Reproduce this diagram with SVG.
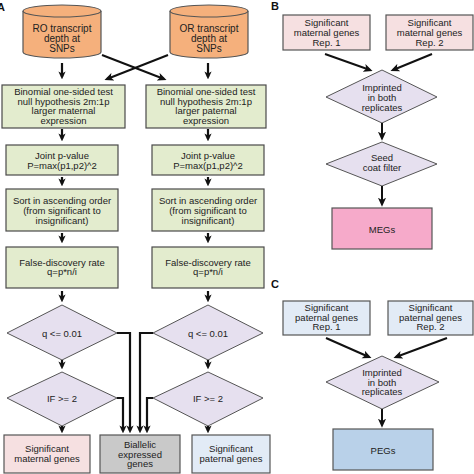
<svg xmlns="http://www.w3.org/2000/svg" width="474" height="474" viewBox="0 0 474 474">
<defs>
<marker id="ah" viewBox="0 0 10 10" refX="7" refY="5" markerWidth="9" markerHeight="9" markerUnits="userSpaceOnUse" orient="auto">
<path d="M0,0.5 L10,5 L0,9.5 L2.5,5 z" fill="#111"/>
</marker>
<marker id="ahs" viewBox="0 0 10 10" refX="7" refY="5" markerWidth="8" markerHeight="8" markerUnits="userSpaceOnUse" orient="auto">
<path d="M0,0.5 L10,5 L0,9.5 L2.5,5 z" fill="#111"/>
</marker>
</defs>
<style>
text{font-family:"Liberation Sans",Arial,Helvetica,sans-serif;font-size:9.5px;fill:#222;text-anchor:middle}
.big{font-size:10px}
.lbl{font-weight:bold;text-anchor:start;font-size:11px;fill:#111}
.cyl{fill:#f5b07c;stroke:#555;stroke-width:1.2}
.grn{fill:#e3ecce;stroke:#4a4a4a;stroke-width:1.2}
.dia{fill:#e6e0ef;stroke:#555;stroke-width:1}
.mat{fill:#f6e0e1;stroke:#555;stroke-width:1.2}
.pat{fill:#e2ebf6;stroke:#555;stroke-width:1.2}
.bia{fill:#c9c9c9;stroke:#555;stroke-width:1.2}
.meg{fill:#f6aaca;stroke:#555;stroke-width:1.2}
.peg{fill:#b9d1e9;stroke:#555;stroke-width:1.2}
.v{fill:none;stroke:#111;stroke-width:2.2;marker-end:url(#ahs)}
.d{fill:none;stroke:#111;stroke-width:2;marker-end:url(#ah)}
</style>
<rect width="474" height="474" fill="#fff"/>

<text class="lbl" x="-3" y="11">A</text>
<text class="lbl" x="271" y="10">B</text>
<text class="lbl" x="271" y="288">C</text>

<g id="cylRO">
<path class="cyl" d="M23,11 L23,52 A39,6 0 0 0 101,52 L101,11 A39,6 0 0 0 23,11 Z"/>
<path class="cyl" d="M23,11 A39,6 0 0 0 101,11" fill="none"/>
<text class="big" x="62" y="32">RO transcript</text>
<text class="big" x="62" y="42">depth at</text>
<text class="big" x="62" y="52">SNPs</text>
</g>
<g id="cylOR">
<path class="cyl" d="M170,11 L170,52 A39,6 0 0 0 248,52 L248,11 A39,6 0 0 0 170,11 Z"/>
<path class="cyl" d="M170,11 A39,6 0 0 0 248,11" fill="none"/>
<text class="big" x="209" y="32">OR transcript</text>
<text class="big" x="209" y="42">depth at</text>
<text class="big" x="209" y="52">SNPs</text>
</g>

<g id="binomL">
<rect class="grn" x="2" y="85" width="123" height="43"/>
<text x="63.5" y="95">Binomial one-sided test</text>
<text x="63.5" y="104.5">null hypothesis 2m:1p</text>
<text x="63.5" y="114">larger maternal</text>
<text x="63.5" y="123.5">expression</text>
</g>
<g id="binomR">
<rect class="grn" x="146" y="85" width="120" height="43"/>
<text x="206" y="95">Binomial one-sided test</text>
<text x="206" y="104.5">null hypothesis 2m:1p</text>
<text x="206" y="114">larger paternal</text>
<text x="206" y="123.5">expression</text>
</g>

<g id="jointL">
<rect class="grn" x="6" y="145" width="112" height="30"/>
<text x="62" y="159">Joint p-value</text>
<text x="62" y="168.5">P=max(p1,p2)^2</text>
</g>
<g id="jointR">
<rect class="grn" x="152" y="145" width="112" height="30"/>
<text x="208" y="159">Joint p-value</text>
<text x="208" y="168.5">P=max(p1,p2)^2</text>
</g>

<g id="sortL">
<rect class="grn" x="6" y="189" width="112" height="42"/>
<text x="62" y="204">Sort in ascending order</text>
<text x="62" y="213.5">(from significant to</text>
<text x="62" y="223.5">insignificant)</text>
</g>
<g id="sortR">
<rect class="grn" x="152" y="189" width="112" height="42"/>
<text x="208" y="204">Sort in ascending order</text>
<text x="208" y="213.5">(from significant to</text>
<text x="208" y="223.5">insignificant)</text>
</g>

<g id="fdrL">
<rect class="grn" x="6" y="247" width="112" height="41"/>
<text x="62" y="265.5">False-discovery rate</text>
<text x="62" y="275">q=p*n/i</text>
</g>
<g id="fdrR">
<rect class="grn" x="152" y="247" width="112" height="41"/>
<text x="208" y="265.5">False-discovery rate</text>
<text x="208" y="275">q=p*n/i</text>
</g>

<g id="qL">
<polygon class="dia" points="62,305 117,333 62,360 7,333"/>
<text x="62" y="336.5">q &lt;= 0.01</text>
</g>
<g id="qR">
<polygon class="dia" points="208,305 263,333 208,360 153,333"/>
<text x="208" y="336.5">q &lt;= 0.01</text>
</g>
<g id="ifL">
<polygon class="dia" points="62,372 117,398 62,426 7,398"/>
<text x="62" y="401.5">IF &gt;= 2</text>
</g>
<g id="ifR">
<polygon class="dia" points="208,372 263,398 208,426 153,398"/>
<text x="208" y="401.5">IF &gt;= 2</text>
</g>

<g id="sigMat">
<rect class="mat" x="4" y="435" width="86" height="38"/>
<text x="47" y="451.5">Significant</text>
<text x="47" y="461.5">maternal genes</text>
</g>
<g id="biallelic">
<rect class="bia" x="100" y="435" width="80" height="38"/>
<text x="140" y="448">Biallelic</text>
<text x="140" y="457.5">expressed</text>
<text x="140" y="467">genes</text>
</g>
<g id="sigPat">
<rect class="pat" x="192" y="435" width="78" height="38"/>
<text x="231" y="451.5">Significant</text>
<text x="231" y="461.5">paternal genes</text>
</g>

<g id="bRep1">
<rect class="mat" x="283" y="15" width="87" height="35"/>
<text x="326.5" y="26">Significant</text>
<text x="326.5" y="35.5">maternal genes</text>
<text x="326.5" y="45.5">Rep. 1</text>
</g>
<g id="bRep2">
<rect class="mat" x="386" y="15" width="87" height="35"/>
<text x="429.5" y="26">Significant</text>
<text x="429.5" y="35.5">maternal genes</text>
<text x="429.5" y="45.5">Rep. 2</text>
</g>
<g id="bImp">
<polygon class="dia" points="382,70 437,97 382,123 326,97"/>
<text x="382" y="90.5">Imprinted</text>
<text x="382" y="100.5">in both</text>
<text x="382" y="110.5">replicates</text>
</g>
<g id="bSeed">
<polygon class="dia" points="382,142 437,164 382,186 326,164"/>
<text x="382" y="161">Seed</text>
<text x="382" y="171">coat filter</text>
</g>
<g id="megs">
<rect class="meg" x="332" y="208" width="100" height="41"/>
<text x="382" y="232.5">MEGs</text>
</g>

<g id="cRep1">
<rect class="pat" x="283" y="301" width="87" height="34"/>
<text x="326.5" y="311">Significant</text>
<text x="326.5" y="320.5">paternal genes</text>
<text x="326.5" y="330">Rep. 1</text>
</g>
<g id="cRep2">
<rect class="pat" x="388" y="301" width="85" height="34"/>
<text x="430.5" y="311">Significant</text>
<text x="430.5" y="320.5">paternal genes</text>
<text x="430.5" y="330">Rep. 2</text>
</g>
<g id="cImp">
<polygon class="dia" points="382,356 439,382 382,409 326,382"/>
<text x="382" y="376">Imprinted</text>
<text x="382" y="385.5">in both</text>
<text x="382" y="395">replicates</text>
</g>
<g id="pegs">
<rect class="peg" x="333" y="429" width="100" height="41"/>
<text x="383" y="453.5">PEGs</text>
</g>

<g id="connectors">
<line class="v" x1="62" y1="63" x2="62" y2="77"/>
<line class="v" x1="208" y1="63" x2="208" y2="77"/>
<line class="d" x1="102" y1="55" x2="164" y2="79"/>
<line class="d" x1="168" y1="55" x2="107" y2="79"/>
<line class="v" x1="62" y1="129" x2="62" y2="139"/>
<line class="v" x1="208" y1="129" x2="208" y2="139"/>
<line class="v" x1="62" y1="177" x2="62" y2="184"/>
<line class="v" x1="208" y1="177" x2="208" y2="184"/>
<line class="v" x1="62" y1="233" x2="62" y2="241"/>
<line class="v" x1="208" y1="233" x2="208" y2="241"/>
<line class="v" x1="62" y1="291" x2="62" y2="300"/>
<line class="v" x1="208" y1="291" x2="208" y2="300"/>
<line class="v" x1="62" y1="360" x2="62" y2="367"/>
<line class="v" x1="208" y1="360" x2="208" y2="367"/>
<line class="v" x1="62" y1="426" x2="62" y2="431"/>
<line class="v" x1="208" y1="426" x2="208" y2="431"/>
<path class="v" d="M117,333 H130 V431"/>
<path class="v" d="M117,398 H123 V431"/>
<path class="v" d="M153,333 H140 V431"/>
<path class="v" d="M153,398 H147 V431"/>
<line class="d" x1="325" y1="54" x2="370" y2="70"/>
<line class="d" x1="432" y1="54" x2="393" y2="70"/>
<line class="d" x1="382" y1="123" x2="382" y2="138"/>
<line class="d" x1="382" y1="186" x2="382" y2="204"/>
<line class="d" x1="326" y1="338" x2="369" y2="357"/>
<line class="d" x1="447" y1="338" x2="396" y2="357"/>
<line class="d" x1="382" y1="409" x2="382" y2="425"/>
</g>
</svg>
